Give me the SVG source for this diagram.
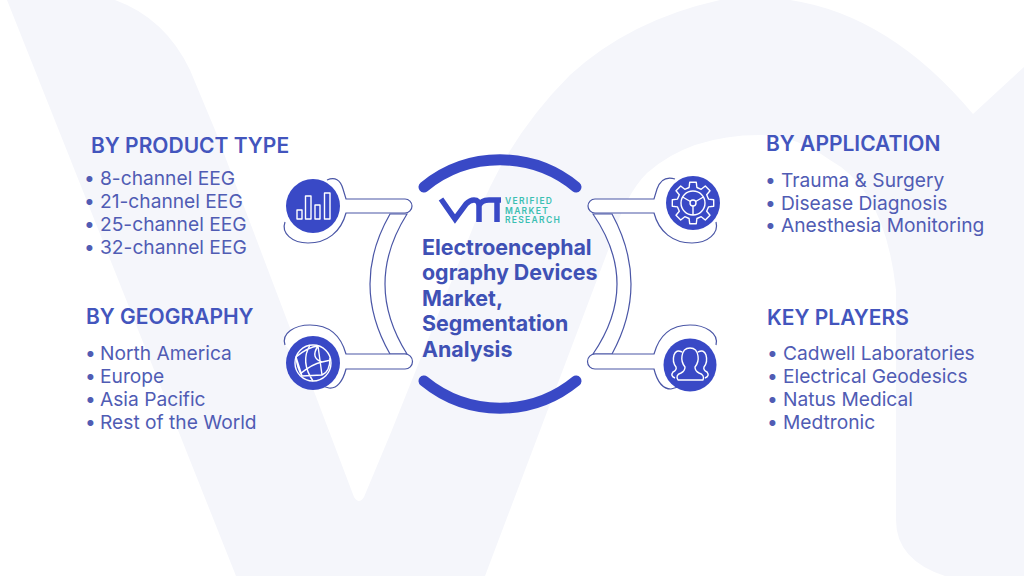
<svg xmlns="http://www.w3.org/2000/svg" width="1024" height="576" viewBox="0 0 1024 576">
<style>
.bg{fill:#f5f6fb}
.h{font:600 21px Inter,"Liberation Sans",sans-serif;fill:#4355bd}
.t{font:400 19.2px Inter,"Liberation Sans",sans-serif;fill:#505cb4}
.c{font:700 21.4px Inter,"Liberation Sans",sans-serif;fill:#3f51b5}
.o{fill:#fff;stroke:#4a56a6;stroke-width:1.2}
.d{fill:#3949c6}
.i{fill:none;stroke:#fff;stroke-width:1.4;stroke-linejoin:round}
.a{fill:none;stroke:#3949c6;stroke-width:11;stroke-linecap:round}
.v{font:600 8.5px Inter,"Liberation Sans",sans-serif;fill:#3bbfb2;letter-spacing:1.3px}
</style>
<g id="background">
<rect width="1024" height="576" fill="#fff"/>
<path class="bg" d="M7 0H115Q165 18 190 70L215 130L354 497Q359 505 364 497L392 430L474 225Q505 140 570 75Q630 20 720 0H790Q890 15 973 114L1024 67V576H945Q896 560 896 520V290Q885 190 830 160Q795 135 760 135Q690 135 647 173Q625 195 612 240L485 576H236Z"/>
</g>
<g id="connectors">
<path class="o" d="M390 214Q350 284 390 354H407Q363 284 407 214Z"/>
<path class="o" d="M593 214Q641 284 593 354H612Q650 284 612 214Z"/>
</g>
<g id="node-product">
<path class="o" d="M327 180Q339 175 343 189L346 199H405A7 7 0 0 1 405 213H346C341 232 327 243 308 243C292 243 281 233 285 222"/>
<circle class="d" cx="313" cy="206" r="27"/>
<path class="i" d="M297 219V210H302V219ZM305.500 219V196H311V219ZM315 219V205H320V219ZM324.500 219V193H330V219Z"/>
</g>
<g id="node-geography">
<path class="o" d="M285 345C281 333 295 325 310 325C329 325 341 336 346 354H405A7.500 7.500 0 0 1 405 369H346C343 381 337 389 329 388L322 386"/>
<circle class="d" cx="313" cy="363" r="27"/>
<g class="i"><circle cx="313" cy="363" r="18"/><path d="M296 357Q308 347 318 346L322 375L302 376ZM296 357Q297 368 302 376M318 346Q310 358 322 362M300 374Q312 364 322 362L331 360M310 345Q300 362 313 381M322 375Q330 372 330 358"/></g>
</g>
<g id="node-application">
<path class="o" d="M675 179Q662 175 657 189L654 199H595A7 7 0 0 0 595 213H654C659 232 673 243 692 243C708 243 719 233 716 222"/>
<circle class="d" cx="693" cy="203" r="27"/>
<g class="i" transform="translate(693 203)"><path d="M15.500 -3.900 20.700 -3.300 20.700 3.300 15.500 3.900 13.700 8.200 17 12.300 12.300 17 8.200 13.700 3.900 15.500 3.300 20.700 -3.300 20.700 -3.900 15.500 -8.200 13.700 -12.300 17 -17 12.300 -13.700 8.200 -15.500 3.900 -20.700 3.300 -20.700 -3.300 -15.500 -3.900 -13.700 -8.200 -17 -12.300 -12.300 -17 -8.200 -13.700 -3.900 -15.500 -3.300 -20.700 3.300 -20.700 3.900 -15.500 8.200 -13.700 12.300 -17 17 -12.300 13.700 -8.200Z"/><circle r="12"/><circle r="3"/><path d="M0 3V12M-2.600 -1.500L-10.400 -6M2.600 -1.500L10.400 -6"/></g>
</g>
<g id="node-players">
<path class="o" d="M716 345C719 333 705 325 690 325C671 325 659 336 654 354H595A7.500 7.500 0 0 0 595 369H654C657 381 663 389 671 389L678 387"/>
<circle class="d" cx="690" cy="365" r="26.500"/>
<g class="i"><path d="M678 380H703Q705 375 699 373Q695 371 695 367Q699 362 698 356Q697 348 690 348Q683 348 682 356Q681 362 685 367Q685 371 681 373Q675 375 678 380Z"/><path d="M682 352Q676 349 674 355Q672 362 676 367Q677 370 673 372Q670 376 675 378"/><path d="M698 352Q704 349 706 355Q708 362 704 367Q703 370 707 372Q710 376 705 378"/></g>
</g>
<g id="center">
<path class="a" d="M424 187A120 120 0 0 1 576 187"/>
<path class="a" d="M424 381A120 120 0 0 0 576 381"/>
<path d="M441 199L455 219L466 204Q470 200 474 200Q479 200 479 206V222M479 206Q481 200 489 200H501M497 200V222" fill="none" stroke="#3949c6" stroke-width="5.500"/>
<text class="v" x="505" y="204">VERIFIED</text>
<text class="v" x="505" y="213.500">MARKET</text>
<text class="v" x="505" y="223">RESEARCH</text>
<text class="c" x="422" y="254.500">Electroencephal</text>
<text class="c" x="422" y="280">ography Devices</text>
<text class="c" x="422" y="305.500">Market,</text>
<text class="c" x="422" y="331">Segmentation</text>
<text class="c" x="422" y="356.500">Analysis</text>
</g>
<g id="product-type">
<text class="h" x="91" y="153">BY PRODUCT TYPE</text>
<text class="t" x="84" y="185">•<tspan x="100">8-channel EEG</tspan></text>
<text class="t" x="84" y="208">•<tspan x="100">21-channel EEG</tspan></text>
<text class="t" x="84" y="231">•<tspan x="100">25-channel EEG</tspan></text>
<text class="t" x="84" y="254">•<tspan x="100">32-channel EEG</tspan></text>
</g>
<g id="geography">
<text class="h" x="86" y="324">BY GEOGRAPHY</text>
<text class="t" x="85" y="360">•<tspan x="100">North America</tspan></text>
<text class="t" x="85" y="383">•<tspan x="100">Europe</tspan></text>
<text class="t" x="85" y="406">•<tspan x="100">Asia Pacific</tspan></text>
<text class="t" x="85" y="429">•<tspan x="100">Rest of the World</tspan></text>
</g>
<g id="application">
<text class="h" x="766" y="151">BY APPLICATION</text>
<text class="t" x="765" y="187">•<tspan x="781">Trauma &amp; Surgery</tspan></text>
<text class="t" x="765" y="210">•<tspan x="781">Disease Diagnosis</tspan></text>
<text class="t" x="765" y="232">•<tspan x="781">Anesthesia Monitoring</tspan></text>
</g>
<g id="key-players">
<text class="h" x="767" y="325">KEY PLAYERS</text>
<text class="t" x="767" y="360">•<tspan x="783">Cadwell Laboratories</tspan></text>
<text class="t" x="767" y="383">•<tspan x="783">Electrical Geodesics</tspan></text>
<text class="t" x="767" y="406">•<tspan x="783">Natus Medical</tspan></text>
<text class="t" x="767" y="429">•<tspan x="783">Medtronic</tspan></text>
</g>
</svg>
